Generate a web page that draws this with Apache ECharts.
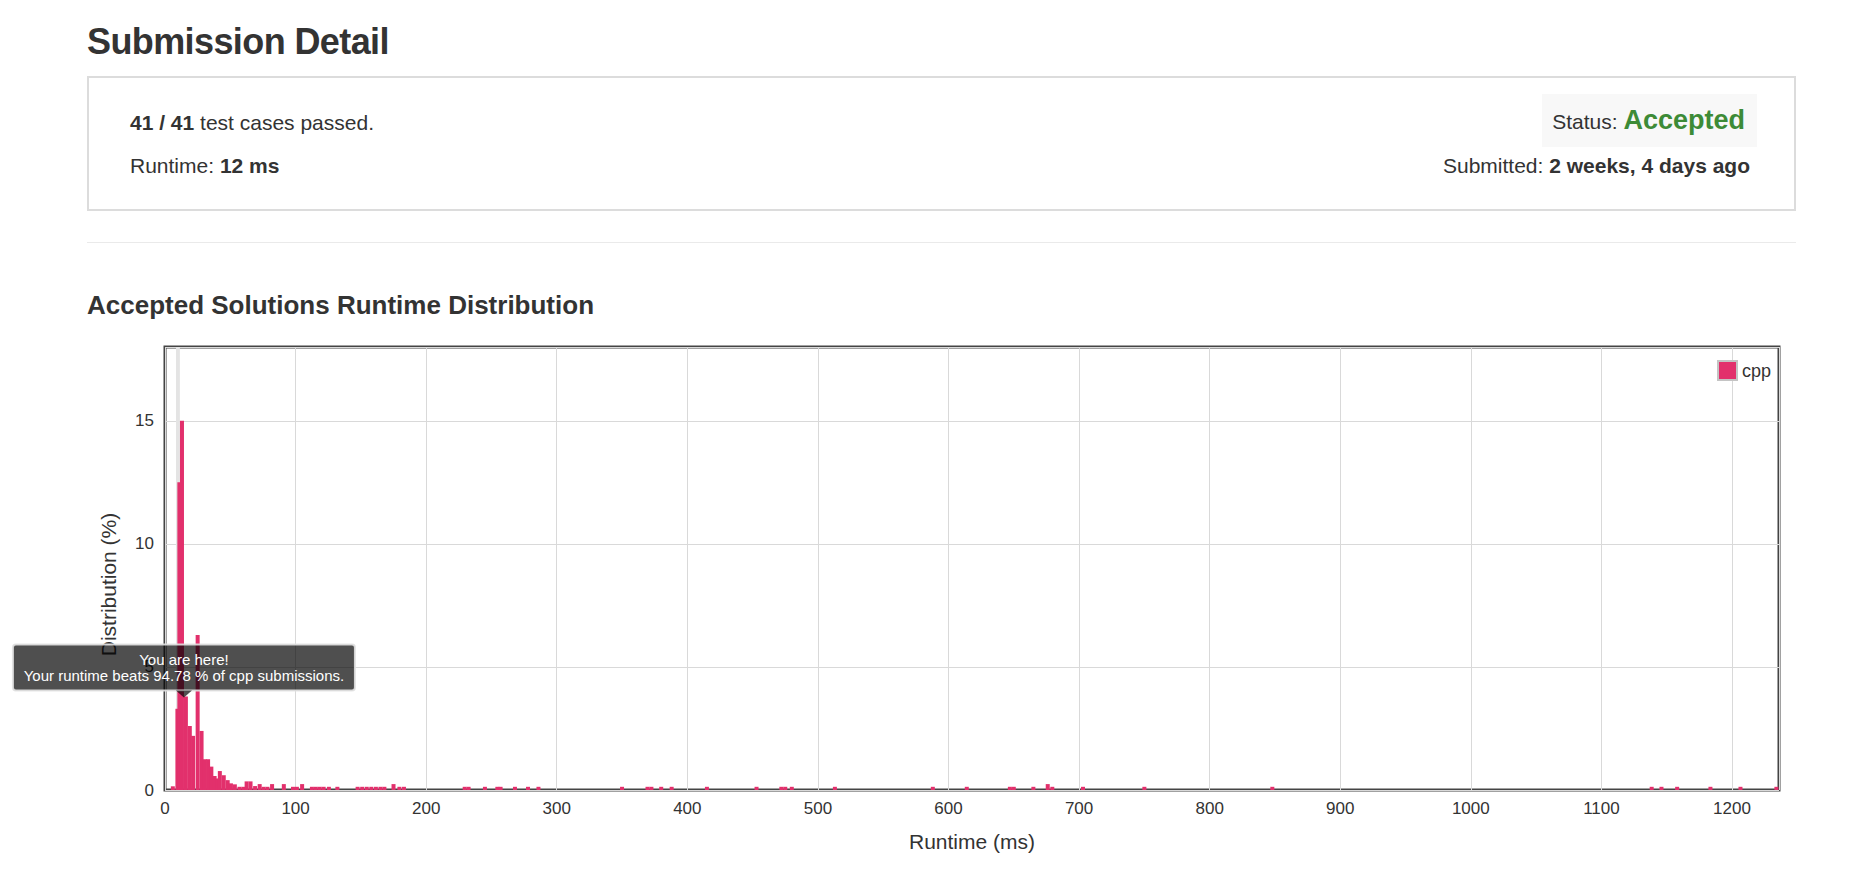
<!DOCTYPE html>
<html>
<head>
<meta charset="utf-8">
<script src="https://cdn.jsdelivr.net/npm/echarts@6/dist/echarts.min.js"></script>
<style>
html,body{margin:0;padding:0;background:#fff;width:1870px;height:871px;overflow:hidden;font-family:"Liberation Sans",Arial,Helvetica,sans-serif;color:#333;}
#chart{position:absolute;left:0;top:0;width:1870px;height:871px;}
.t{position:absolute;white-space:nowrap;line-height:1;}
b{font-weight:bold;}
</style>
</head>
<body>
<div id="chart"></div>
<div class="t" style="left:87px;top:24px;font-size:36px;font-weight:bold;letter-spacing:-0.6px;color:#333;">Submission Detail</div>
<div style="position:absolute;left:87px;top:76px;width:1705px;height:131px;border:2px solid #dcdcdc;"></div>
<div style="position:absolute;left:1542px;top:94px;width:215px;height:53px;background:#f8f8f8;"></div>
<div class="t" style="left:130px;top:112px;font-size:21px;"><b>41 / 41</b> test cases passed.</div>
<div class="t" style="left:130px;top:155px;font-size:21px;">Runtime: <b>12 ms</b></div>
<div class="t" style="right:125px;top:107px;font-size:21px;"><span>Status: </span><span style="font-size:27px;font-weight:bold;color:#3d8b37;">Accepted</span></div>
<div class="t" style="right:120px;top:155px;font-size:21px;">Submitted: <b>2 weeks, 4 days ago</b></div>
<div style="position:absolute;left:87px;top:242px;width:1709px;height:1px;background:#eaeaea;"></div>
<div class="t" style="left:87px;top:292px;font-size:26px;font-weight:bold;color:#333;">Accepted Solutions Runtime Distribution</div>
<script>
// ---- data ----
const seriesName = 'cpp';
const runtimes = [6, 9.5, 11, 13, 16, 19, 21.5, 25, 28, 30.5, 33, 35.5, 38, 40, 42, 45, 48, 50.5, 53.5, 57, 60,
  62.5, 65.5, 69, 72.5, 75.5, 78.5, 82, 91, 98, 101, 105, 112.5, 115.5, 118.5, 121.5, 125.5, 132,
  147.5, 151, 154.5, 158, 161.5, 165, 168, 175, 179.5, 183,
  229.5, 232.5, 245, 254.5, 257, 268, 278, 286, 350, 369.5, 372.5, 380, 388, 415, 453, 472, 475, 480, 513,
  588, 614, 647, 650, 665, 676, 679.5, 703, 750, 848, 1138.5, 1146, 1158, 1183.5, 1206.5, 1234];
const distribution = [0.15, 3.3, 12.5, 15.0, 3.8, 2.6, 2.2, 6.3, 2.4, 1.25, 1.25, 0.95, 0.57, 0.47, 0.77, 0.6, 0.4, 0.27, 0.23, 0.13, 0.13,
  0.35, 0.35, 0.16, 0.24, 0.13, 0.13, 0.24, 0.24, 0.13, 0.13, 0.24, 0.13, 0.13, 0.13, 0.13, 0.13, 0.13,
  0.13, 0.13, 0.13, 0.13, 0.13, 0.13, 0.13, 0.24, 0.13, 0.13,
  0.13, 0.13, 0.13, 0.13, 0.13, 0.13, 0.13, 0.13, 0.13, 0.13, 0.13, 0.13, 0.13, 0.13, 0.13, 0.13, 0.13, 0.13, 0.13,
  0.13, 0.13, 0.13, 0.13, 0.13, 0.24, 0.13, 0.13, 0.13, 0.13, 0.13, 0.13, 0.13, 0.13, 0.13, 0.13];
const xMin = 0, xMax = 1236, xInterval = 100;
const yMin = 0, yMax = 18, yInterval = 5;
const bandStart = 8.4, bandEnd = 11.4;          // highlighted runtime band
const markerRuntime = 14.5, markerValue = 3.8;   // "You are here!" pointer
const markerLines = ['You are here!', 'Your runtime beats 94.78 % of cpp submissions.'];
const xName = 'Runtime (ms)', yName = 'Distribution (%)';

const FONT = 'Liberation Sans';
const chart = echarts.init(document.getElementById('chart'), null, {renderer: 'svg'});
const barData = runtimes.map((r, i) => [r, distribution[i]]);

chart.setOption({
  animation: false,
  textStyle: {fontFamily: FONT},
  grid: {left: 165, right: 91, top: 347, bottom: 81, show: true, borderColor: '#444', borderWidth: 3, backgroundColor: '#fff'},
  legend: {
    data: [seriesName], left: 1712, top: 355, itemWidth: 19, itemHeight: 19, icon: 'rect',
    itemStyle: {borderColor: '#c4c4c4', borderWidth: 2},
    textStyle: {fontSize: 18, color: '#333', fontFamily: FONT}
  },
  xAxis: {
    type: 'value', min: xMin, max: xMax, interval: xInterval,
    axisLine: {show: false}, axisTick: {show: false},
    splitLine: {show: true, lineStyle: {color: '#d9d9d9', width: 1}},
    axisLabel: {color: '#333', fontSize: 17, margin: 10, showMaxLabel: false, fontFamily: FONT,
      formatter: v => String(v)},
    name: xName, nameLocation: 'middle', nameGap: 41,
    nameTextStyle: {fontSize: 21, color: '#333', fontFamily: FONT}
  },
  yAxis: {
    type: 'value', min: yMin, max: yMax, interval: yInterval,
    axisLine: {show: false}, axisTick: {show: false},
    splitLine: {show: true, lineStyle: {color: '#d9d9d9', width: 1}},
    axisLabel: {color: '#333', fontSize: 17, margin: 11, showMaxLabel: false, fontFamily: FONT,
      formatter: v => String(v)},
    name: yName, nameLocation: 'middle', nameGap: 46,
    nameTextStyle: {fontSize: 21, color: '#333', fontFamily: FONT, padding: [0, 32, 0, 0]}
  },
  series: [{
    name: seriesName, type: 'bar', data: barData, barWidth: 4,
    itemStyle: {color: '#e2306c'},
    markArea: {silent: true, itemStyle: {color: '#e4e4e4'}, data: [[{xAxis: bandStart}, {xAxis: bandEnd}]]}
  }]
});

const p = chart.convertToPixel({gridIndex: 0}, [markerRuntime, markerValue]);
const bw = 342, bh = 46, ah = 6;
chart.setOption({
  graphic: [{
    type: 'group', z: 100, zlevel: 0,
    children: [
      {type: 'rect', z: 100, shape: {x: p[0] - bw / 2, y: p[1] - ah - bh, width: bw, height: bh, r: 3},
        style: {fill: 'rgba(0,0,0,0.69)', stroke: 'rgba(225,225,225,0.9)', lineWidth: 2}},
      {type: 'polygon', z: 100, shape: {points: [[p[0] - 8, p[1] - ah], [p[0] + 8, p[1] - ah], [p[0], p[1] + 1]]},
        style: {fill: 'rgba(0,0,0,0.69)'}},
      {type: 'text', z: 101, x: p[0], y: p[1] - ah - bh + 15,
        style: {text: markerLines[0], fill: '#fff', font: '15px ' + FONT, align: 'center', verticalAlign: 'middle'}},
      {type: 'text', z: 101, x: p[0], y: p[1] - ah - bh + 31,
        style: {text: markerLines[1], fill: '#fff', font: '15px ' + FONT, align: 'center', verticalAlign: 'middle'}}
    ]
  }]
});
</script>
</body>
</html>
